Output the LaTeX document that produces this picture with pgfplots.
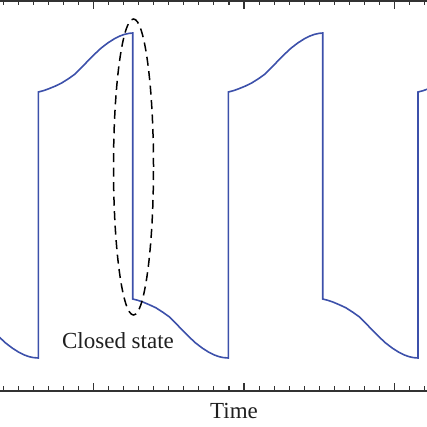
\documentclass[border=0pt]{standalone}
\usepackage{pgfplots}
\pgfplotsset{compat=1.18}
\usepackage{fontspec}
\setmainfont{Liberation Serif}
\definecolor{wave}{RGB}{60,80,170}
\begin{document}
\begin{tikzpicture}
\begin{axis}[
  at={(0,0)}, anchor=south west,
  scale only axis, width=470pt, height=390pt,
  xmin=-20, xmax=450, ymin=0, ymax=390,
  xtick={93.5,244,394.5},
  minor xtick={-11.85,3.2,18.25,33.3,48.35,63.4,78.45,108.55,123.6,138.65,153.7,168.75,183.8,198.85,213.9,228.95,259.05,274.1,289.15,304.2,319.25,334.3,349.35,364.4,379.45,409.55,424.6,439.65},
  xticklabels={}, ytick=\empty,
  tick align=inside,
  major tick length=8pt, minor tick length=4.5pt,
  axis line style={black!80, line width=1.3pt},
  every tick/.style={black!80, line width=1.1pt},
]
\addplot[wave, line width=1.6pt, line join=miter] coordinates {
(-57.3,92) (-52.6,90.8) (-47.4,89.1) (-40.3,86.1) (-34.1,83.2) (-27.1,78.7) (-20.9,74.3) (-14.3,67.8) (-7.6,60.8) (-0.7,53.9) (5.6,48.0) (12.6,42.7) (18.9,38.7) (23.9,36.2) (28.8,34.4) (33.3,33.4) (38.3,33)
(38.3,299) (43.0,300.2) (48.2,302.0) (55.3,304.9) (61.5,307.9) (68.5,312.3) (74.7,316.7) (81.3,323.2) (88.0,330.2) (94.9,337.1) (101.2,343.0) (108.2,348.3) (114.5,352.3) (119.5,354.8) (124.4,356.6) (128.9,357.6) (132.7,358)
(132.7,92) (137.4,90.8) (142.6,89.1) (149.7,86.1) (155.9,83.2) (162.9,78.7) (169.1,74.3) (175.7,67.8) (182.4,60.8) (189.3,53.9) (195.6,48.0) (202.6,42.7) (208.9,38.7) (213.9,36.2) (218.8,34.4) (223.3,33.4) (228.3,33)
(228.3,299) (233.0,300.2) (238.2,302.0) (245.3,304.9) (251.5,307.9) (258.5,312.3) (264.7,316.7) (271.3,323.2) (278.0,330.2) (284.9,337.1) (291.2,343.0) (298.2,348.3) (304.5,352.3) (309.5,354.8) (314.4,356.6) (318.9,357.6) (322.7,358)
(322.7,92) (327.4,90.8) (332.6,89.1) (339.7,86.1) (345.9,83.2) (352.9,78.7) (359.1,74.3) (365.7,67.8) (372.4,60.8) (379.3,53.9) (385.6,48.0) (392.6,42.7) (398.9,38.7) (403.9,36.2) (408.8,34.4) (413.3,33.4) (418.0,33)
(418.0,299) (422.7,300.2) (427.9,302.0) (435.0,304.9) (441.2,307.9) (448.2,312.3) (454.4,316.7)
};
\draw[black, line width=1.5pt, dash pattern=on 9pt off 5.5pt] (axis cs:133.5,224) ellipse [x radius=20, y radius=148];
\coordinate (timelab) at (axis cs:234,-27.3);
\coordinate (closedlab) at (axis cs:118,42);
\coordinate (bbsw) at (axis cs:0,-36);
\coordinate (bbne) at (axis cs:427,391);
\end{axis}
\node[anchor=base, inner sep=0pt, font=\fontsize{23}{27}\selectfont, text=black!88] at (timelab) {Time};
\node[anchor=base, inner sep=0pt, font=\fontsize{23}{27}\selectfont, text=black!88] at (closedlab) {Closed state};
\pgfresetboundingbox
\useasboundingbox (bbsw) rectangle (bbne);
\end{tikzpicture}
\end{document}
